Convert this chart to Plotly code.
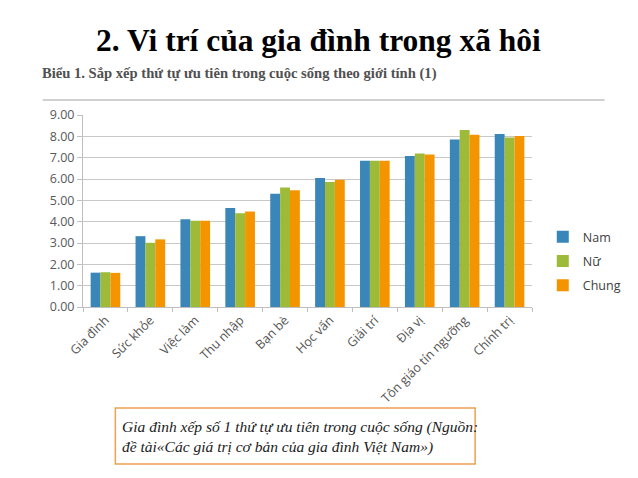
import plotly.graph_objects as go

categories = ["Gia đình", "Sức khỏe", "Việc làm", "Thu nhập", "Bạn bè",
              "Học vấn", "Giải trí", "Địa vị", "Tôn giáo tín ngưỡng", "Chính trị"]
nam = [1.61, 3.32, 4.11, 4.64, 5.31, 6.05, 6.85, 7.08, 7.85, 8.11]
nu = [1.63, 3.01, 4.04, 4.39, 5.60, 5.86, 6.85, 7.19, 8.30, 7.95]
chung = [1.60, 3.17, 4.04, 4.48, 5.47, 5.97, 6.85, 7.15, 8.08, 8.01]
series_names = ["Nam", "Nữ", "Chung"]
colors = ["#3a86b8", "#9dbb38", "#f49500"]

title = "2. Vi trí của gia đình trong xã hôi"
subtitle = "Biểu 1. Sắp xếp thứ tự ưu tiên trong cuộc sống theo giới tính (1)"
note = ("Gia đình xếp số 1 thứ tự ưu tiên trong cuộc sống (Nguồn:<br>"
        "đề tài«Các giá trị cơ bản của gia đình Việt Nam»)")

# page body adds an 8px margin, so the figure is a bit smaller
OFF = 8
W, H = 638, 478
L, R, T, B = 83, 541, 115, 307


def px(x):
    return (x - L) / (R - L)


def py(y):
    return (B - y) / (B - T)


fig = go.Figure()
for i, (name, vals) in enumerate(zip(series_names, [nam, nu, chung])):
    fig.add_trace(go.Bar(x=categories, y=vals, name=name,
                         marker=dict(color=colors[i], line=dict(width=0)),
                         legendgroup=name))

fig.update_layout(
    width=W - OFF, height=H - OFF,
    margin=dict(l=L - OFF, r=W - R, t=T - OFF, b=H - B),
    paper_bgcolor="white", plot_bgcolor="white",
    barmode="group", bargap=0.34, bargroupgap=0,
    font=dict(family="Open Sans, DejaVu Sans", color="#595959", size=12),
    legend=dict(x=px(552), y=py(222), xanchor="left", yanchor="top",
                font=dict(size=12.5, color="#404040"),
                tracegroupgap=5, itemwidth=30),
    showlegend=True,
)
fig.update_xaxes(
    type="category", tickangle=-45, tickfont=dict(size=12.5, color="#555555"),
    showline=True, linecolor="#bfbfbf", linewidth=1,
    ticks="outside", tickson="boundaries", ticklen=4, tickcolor="#bfbfbf",
    showgrid=False,
)
fig.update_yaxes(
    range=[0, 9], dtick=1, tickformat=".2f",
    tickfont=dict(size=12.5, color="#595959"),
    showgrid=True, gridcolor="#c8c8c8", gridwidth=1,
    showline=True, linecolor="#bfbfbf", linewidth=1,
    ticks="outside", ticklen=5, tickcolor="#bfbfbf",
    zeroline=False,
)

fig.add_annotation(text="<b>" + title + "</b>", xref="paper", yref="paper",
                   x=px(323), y=py(40), xanchor="center", yanchor="middle",
                   showarrow=False,
                   font=dict(family="Liberation Serif", size=31.5, color="black"))
fig.add_annotation(text="<b>" + subtitle + "</b>", xref="paper", yref="paper",
                   x=px(39), y=py(73), xanchor="left", yanchor="middle",
                   showarrow=False,
                   font=dict(family="Liberation Serif", size=14.6, color="#505050"))
fig.add_shape(type="line", xref="paper", yref="paper",
              x0=px(42), x1=px(615), y0=py(100), y1=py(100),
              line=dict(color="#d0d0d0", width=2))

fig.add_shape(type="rect", xref="paper", yref="paper",
              x0=px(116), x1=px(483), y0=py(408), y1=py(464),
              line=dict(color="#f0a050", width=1.5), fillcolor="white")
fig.add_annotation(text="<i>" + note + "</i>", xref="paper", yref="paper",
                   x=px(121), y=py(437), xanchor="left", yanchor="middle",
                   align="left", showarrow=False,
                   font=dict(family="Liberation Serif", size=15.5, color="#1a1a1a"))

fig.write_html("out.html")
